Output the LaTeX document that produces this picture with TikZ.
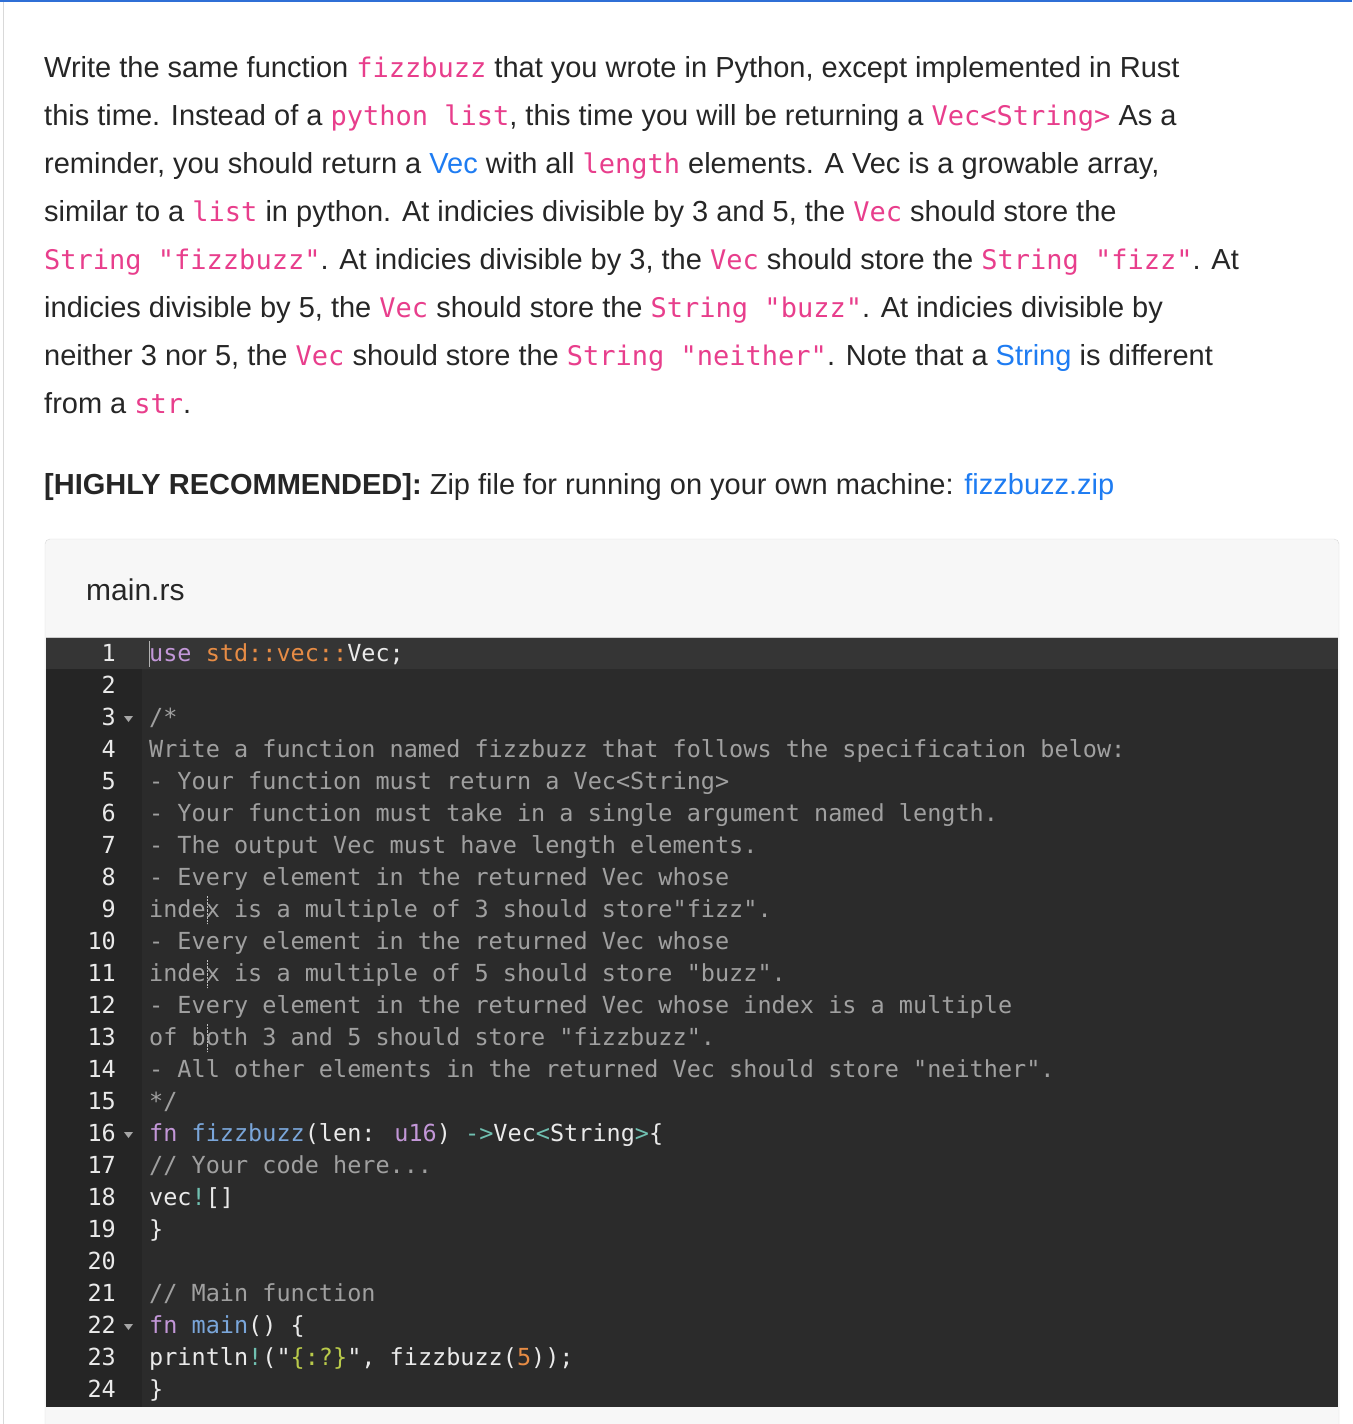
\documentclass[tikz,border=0pt]{standalone}
\usepackage{fontspec}
\setmainfont{Liberation Sans}
\newfontfamily\codefont{DejaVu Sans Mono}
\definecolor{pinkc}{HTML}{E83E8C}
\definecolor{linkc}{HTML}{1E7CF2}
\definecolor{topc}{HTML}{2F6FD6}
\definecolor{kwc}{HTML}{C397D8}
\definecolor{orc}{HTML}{E78C45}
\definecolor{fnc}{HTML}{7AA6DA}
\definecolor{cyc}{HTML}{70C0B1}
\definecolor{grc}{HTML}{B9CA4A}
\definecolor{cmc}{HTML}{A0A0A0}
\definecolor{txc}{HTML}{EAEAEA}
\definecolor{bgc}{HTML}{2B2B2B}
\definecolor{gutc}{HTML}{252525}
\definecolor{actc}{HTML}{353535}
\newcommand{\ic}[1]{{\codefont\fontsize{27}{30}\selectfont\color{pinkc}#1}}
\newcommand{\lk}[1]{{\color{linkc}#1}}
\newcommand{\q}{\symbol{34}}
\newlength\cw
\begin{document}
\begin{tikzpicture}[x=1pt,y=-1pt,
  body/.style={anchor=base west,inner sep=0pt,font=\fontsize{29}{34}\selectfont,text=black!85},
  code/.style={anchor=base west,inner sep=0pt,font=\codefont\fontsize{23.5}{30}\selectfont,text=txc},
  lnum/.style={anchor=base east,inner sep=0pt,font=\codefont\fontsize{23.5}{30}\selectfont,text=txc},
  fold/.style={fill=gray!70}]
\settowidth\cw{\codefont\fontsize{23.5}{30}\selectfont x}
\useasboundingbox (0,0) rectangle (1352,1424);
\fill[white] (0,0) rectangle (1352,1424);
\fill[topc] (0,0) rectangle (1352,2);
\draw[gray!30,line width=1pt] (3,2) -- (3,1424);
% body text
\node[body] (l1) at (44,77) {Write the same function \ic{fizzbuzz} that you wrote in Python, except implemented in Rust};
\node[body] (l2) at (44,125) {this time. Instead of a \ic{python list}, this time you will be returning a \ic{Vec<String>} As a};
\node[body] (l3) at (44,173) {reminder, you should return a \lk{Vec} with all \ic{length} elements. A Vec is a growable array,};
\node[body] (l4) at (44,221) {similar to a \ic{list} in python. At indicies divisible by 3 and 5, the \ic{Vec} should store the};
\node[body] (l5) at (44,269) {\ic{String \q fizzbuzz\q}. At indicies divisible by 3, the \ic{Vec} should store the \ic{String \q fizz\q}. At};
\node[body] (l6) at (44,317) {indicies divisible by 5, the \ic{Vec} should store the \ic{String \q buzz\q}. At indicies divisible by};
\node[body] (l7) at (44,365) {neither 3 nor 5, the \ic{Vec} should store the \ic{String \q neither\q}. Note that a \lk{String} is different};
\node[body] (l8) at (44,413) {from a \ic{str}.};
\node[body] (hd) at (44,494) {\textbf{[HIGHLY RECOMMENDED]:} Zip file for running on your own machine: \lk{fizzbuzz.zip}};
% box
\draw[gray!30,fill=gray!6,rounded corners=5pt] (45,539) rectangle (1339,1440);
\node[body,font=\fontsize{30}{34}\selectfont] (fname) at (86,600) {main.rs};
\fill[bgc] (46,637) rectangle (1338,1407);
\fill[gutc] (46,637) rectangle (142,1407);
\fill[actc] (46,638) rectangle (1338,669);
\draw[gray!40] (46,637) -- (1338,637);
\foreach \n in {1,...,24}{
  \node[lnum] (n\n) at (116,{661+32*(\n-1)}) {\n};
}
\foreach \n in {3,16,22}{
  \fill[fold] (124,{652+32*(\n-1)}) -- (133,{652+32*(\n-1)}) -- (128.5,{658+32*(\n-1)}) -- cycle;
}
\foreach \n in {9,11,13}{
  \draw[gray!50,densely dotted] (207,{640+32*(\n-1)}) -- (207,{668+32*(\n-1)});
}
\draw[gray!60] (149,641) -- (149,667);
\def\Y#1{{661+32*(#1-1)}}
\node[code] (c1) at (149,\Y{1}) {\color{kwc}use \color{orc}std::vec::\color{txc}Vec;};
\node[code,text=cmc] (c3) at (149,\Y{3}) {/*};
\node[code,text=cmc] (c4) at (149,\Y{4}) {Write a function named fizzbuzz that follows the specification below:};
\node[code,text=cmc] (c5) at (149,\Y{5}) {\hspace*{4\cw}- Your function must return a Vec<String>};
\node[code,text=cmc] (c6) at (149,\Y{6}) {\hspace*{4\cw}- Your function must take in a single argument named length.};
\node[code,text=cmc] (c7) at (149,\Y{7}) {\hspace*{4\cw}- The output Vec must have length elements.};
\node[code,text=cmc] (c8) at (149,\Y{8}) {\hspace*{4\cw}- Every element in the returned Vec whose};
\node[code,text=cmc] (c9) at (149,\Y{9}) {\hspace*{8\cw}index is a multiple of 3 should store\hspace*{2\cw}\q fizz\q.};
\node[code,text=cmc] (c10) at (149,\Y{10}) {\hspace*{4\cw}- Every element in the returned Vec whose};
\node[code,text=cmc] (c11) at (149,\Y{11}) {\hspace*{8\cw}index is a multiple of 5 should store \q buzz\q.};
\node[code,text=cmc] (c12) at (149,\Y{12}) {\hspace*{4\cw}- Every element in the returned Vec whose index is a multiple};
\node[code,text=cmc] (c13) at (149,\Y{13}) {\hspace*{8\cw}of both 3 and 5 should store \q fizzbuzz\q.};
\node[code,text=cmc] (c14) at (149,\Y{14}) {\hspace*{4\cw}- All other elements in the returned Vec should store \q neither\q.};
\node[code,text=cmc] (c15) at (149,\Y{15}) {*/};
\node[code] (c16) at (149,\Y{16}) {\color{kwc}fn \color{fnc}fizzbuzz\color{txc}(len: \color{kwc}u16\color{txc}) \color{cyc}->\color{txc} Vec\color{cyc}<\color{txc}String\color{cyc}>\color{txc} \{};
\node[code,text=cmc] (c17) at (149,\Y{17}) {\hspace*{4\cw}// Your code here...};
\node[code] (c18) at (149,\Y{18}) {\hspace*{4\cw}vec\color{cyc}!\color{txc}[]};
\node[code] (c19) at (149,\Y{19}) {\}};
\node[code,text=cmc] (c21) at (149,\Y{21}) {// Main function};
\node[code] (c22) at (149,\Y{22}) {\color{kwc}fn \color{fnc}main\color{txc}() \{};
\node[code] (c23) at (149,\Y{23}) {\hspace*{4\cw}println\color{cyc}!\color{txc}(\q\color{grc}\{:?\}\color{txc}\q, fizzbuzz(\color{orc}5\color{txc}));};
\node[code] (c24) at (149,\Y{24}) {\}};
\end{tikzpicture}
\end{document}
